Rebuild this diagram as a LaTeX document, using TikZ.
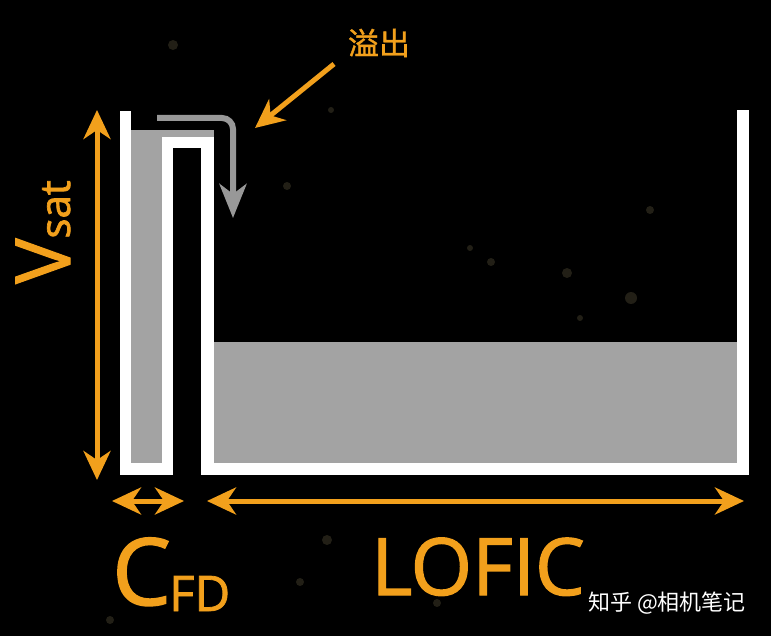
\documentclass[tikz,border=0pt]{standalone}
\usepackage{fontspec}
\setmainfont{Open Sans}
\newfontfamily\lblfont[FakeBold=1.6]{Open Sans}
\newfontfamily\cjk{Noto Sans CJK SC}
\newfontfamily\cjkb[FakeBold=1.2]{Noto Sans CJK SC}
\usetikzlibrary{arrows.meta}
\definecolor{org}{RGB}{242,160,28}
\definecolor{tankgray}{RGB}{163,163,163}
\definecolor{flowgray}{RGB}{152,152,152}
\definecolor{bokeh}{RGB}{34,31,22}
\begin{document}
\begin{tikzpicture}[x=1pt,y=-1pt,
  wall/.style={fill=white},
  liquid/.style={fill=tankgray},
  dimarrow/.style={draw=org,line width=5pt,{Stealth[length=29pt,width=27pt,inset=9pt]}-{Stealth[length=29pt,width=27pt,inset=9pt]}},
  pointer/.style={draw=org,line width=5pt,-{Stealth[length=29pt,width=27pt,inset=9pt]}},
  flow/.style={draw=flowgray,line width=6pt,rounded corners=11pt,-{Stealth[length=34pt,width=27pt,inset=10pt]}},
  lbl/.style={text=org,inner sep=0pt}
]
\fill[black] (0,0) rectangle (771,636);
\useasboundingbox (0,0) rectangle (771,636);

% faint background dots
\foreach \px/\py/\r in {173/45/5, 287/186/4, 331/110/3, 470/248/3, 491/262/4, 567/273/5, 631/298/6, 580/318/3, 650/210/4, 327/540/5, 300/582/4, 110/620/4, 437/603/4}
  \fill[bokeh] (\px,\py) circle (\r);

% liquid
\fill[liquid] (131,130) rectangle (162,463);
\fill[liquid] (131,130) rectangle (214,137);
\fill[liquid] (214,342) rectangle (737,463);

% walls
\fill[wall] (120,111) rectangle (131,475);
\fill[wall] (120,463) rectangle (173,475);
\fill[wall] (162,137) rectangle (173,475);
\fill[wall] (162,137) rectangle (214,148);
\fill[wall] (201,137) rectangle (214,475);
\fill[wall] (201,463) rectangle (749,475);
\fill[wall] (737,110) rectangle (749,475);

% overflow path
\coordinate (fs) at (157,118);
\coordinate (fc) at (233,118);
\coordinate (fe) at (233,218);
\draw[flow] (fs) -- (fc) -- (fe);

% dimension arrows
\coordinate (vtop) at (97,110);
\coordinate (vbot) at (97,480);
\draw[dimarrow] (vtop) -- (vbot);
\coordinate (cl) at (112,501);
\coordinate (cr) at (184,501);
\draw[dimarrow] (cl) -- (cr);
\coordinate (ll) at (207,501);
\coordinate (lr) at (744,501);
\draw[dimarrow] (ll) -- (lr);

% labels
\node[lbl,font=\cjkb\fontsize{31}{31}\selectfont] (yc) at (379,43) {溢出};
\coordinate (ps) at (334,64);
\coordinate (pe) at (255,128);
\draw[pointer] (ps) -- (pe);

\node[lbl,rotate=90,anchor=base,font=\lblfont\fontsize{76}{76}\selectfont] (vsat) at (70,232) {V{\fontsize{42}{42}\selectfont sat}};
\node[lbl,anchor=base west,font=\lblfont\fontsize{93}{93}\selectfont] (c) at (112,605) {C};
\node[lbl,anchor=base west,font=\lblfont\fontsize{49}{49}\selectfont] (fd) at (169,611) {FD};
\node[lbl,anchor=base,font=\lblfont\fontsize{79}{79}\selectfont] (lofic) at (478,595) {LOFIC};

\node[text=white,inner sep=0pt,font=\cjk\fontsize{22}{22}\selectfont] (wm) at (667,603) {知乎 @相机笔记};
\end{tikzpicture}
\end{document}
